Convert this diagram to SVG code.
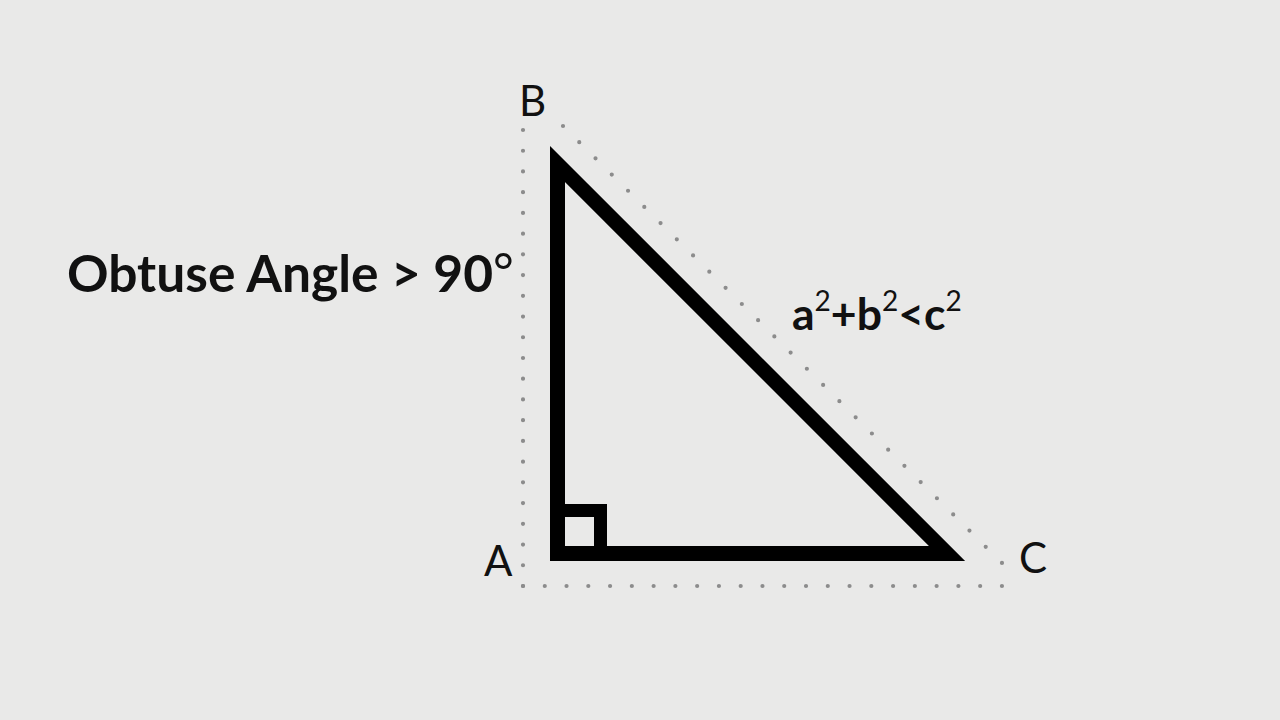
<svg xmlns="http://www.w3.org/2000/svg" width="1280" height="720" viewBox="0 0 1280 720">
<style>
.dots{fill:none;stroke:#8c8c8c;stroke-width:4.2;stroke-linecap:round}
.shape{fill:none;stroke:#000;stroke-width:15;stroke-linejoin:miter}
.lbl{font-family:Lato,"Open Sans","Liberation Sans",sans-serif;fill:#111}
.v{font-size:42px;font-weight:400}
.b{font-weight:700}
.r{font-weight:400}
</style>
<rect width="1280" height="720" fill="#e9e9e8"/>
<g id="guides">
<line class="dots" x1="523" y1="130" x2="523" y2="586" stroke-dasharray="0 20.727"/>
<line class="dots" x1="523" y1="586" x2="1002" y2="586" stroke-dasharray="0 21.77"/>
<line class="dots" x1="563" y1="126" x2="1002" y2="563" stroke-dasharray="0 22.94"/>
</g>
<g id="triangle">
<polygon class="shape" points="557.5,164 557.5,553.5 947,553.5"/>
<polyline fill="none" stroke="#000" stroke-width="13" points="560,510.5 600.5,510.5 600.5,548"/>
</g>
<g id="label-B"><text class="lbl v" x="519" y="116">B</text></g>
<g id="label-A"><text class="lbl v" x="484" y="576">A</text></g>
<g id="label-C"><text class="lbl v" x="1019" y="573">C</text></g>
<g id="angle-label"><text class="lbl b" x="67" y="292" font-size="51.5">Obtuse Angle &gt; 90<tspan class="r" font-size="50" dy="-3">°</tspan></text></g>
<g id="formula"><text class="lbl b" x="792" y="330" font-size="44.5">a<tspan class="r" font-size="28" dy="-19">2</tspan><tspan dy="19">+b</tspan><tspan class="r" font-size="28" dy="-19">2</tspan><tspan dy="19">&lt;c</tspan><tspan class="r" font-size="28" dy="-19">2</tspan></text></g>
</svg>
